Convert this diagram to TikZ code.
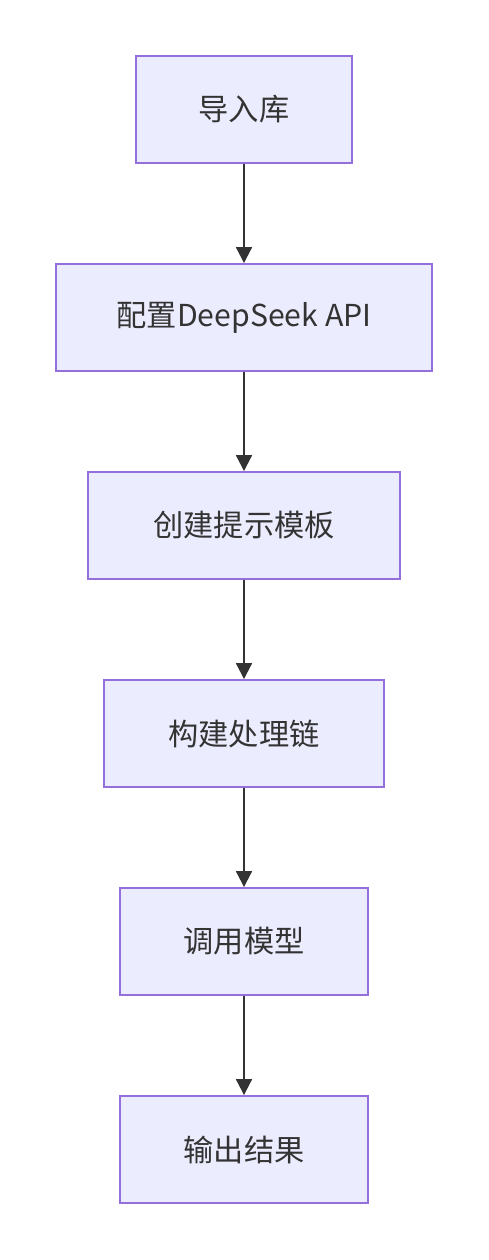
\documentclass[tikz,border=0pt]{standalone}
\usepackage{fontspec}
\setmainfont{Noto Sans CJK SC}
\usetikzlibrary{arrows.meta}
\definecolor{boxfill}{HTML}{ECECFF}
\definecolor{boxline}{HTML}{9370DB}
\definecolor{arrowcol}{HTML}{333333}
\begin{document}
\begin{tikzpicture}[x=0.02cm, y=-0.02cm,
  stepbox/.style={draw=boxline, fill=boxfill, line width=1.1pt, minimum height=2.14cm,
    inner sep=0pt, text=arrowcol, font=\fontsize{17.2}{20}\selectfont},
  flow/.style={-{Triangle[length=9pt,width=9pt]}, draw=arrowcol, line width=1.1pt}]
\useasboundingbox (0,0) rectangle (488,1260);
\node[stepbox, minimum width=4.32cm] (IMP) at (244, 109.5) {导入库};
\node[stepbox, minimum width=7.52cm] (CFG) at (244, 317.5) {配置DeepSeek API};
\node[stepbox, minimum width=6.24cm] (TPL) at (244, 525.5) {创建提示模板};
\node[stepbox, minimum width=5.60cm] (CHN) at (244, 733.5) {构建处理链};
\node[stepbox, minimum width=4.96cm] (CAL) at (244, 941.5) {调用模型};
\node[stepbox, minimum width=4.96cm] (OUT) at (244, 1149.5) {输出结果};
% arrows
\draw[flow] (IMP) -- (CFG);
\draw[flow] (CFG) -- (TPL);
\draw[flow] (TPL) -- (CHN);
\draw[flow] (CHN) -- (CAL);
\draw[flow] (CAL) -- (OUT);
\end{tikzpicture}
\end{document}
